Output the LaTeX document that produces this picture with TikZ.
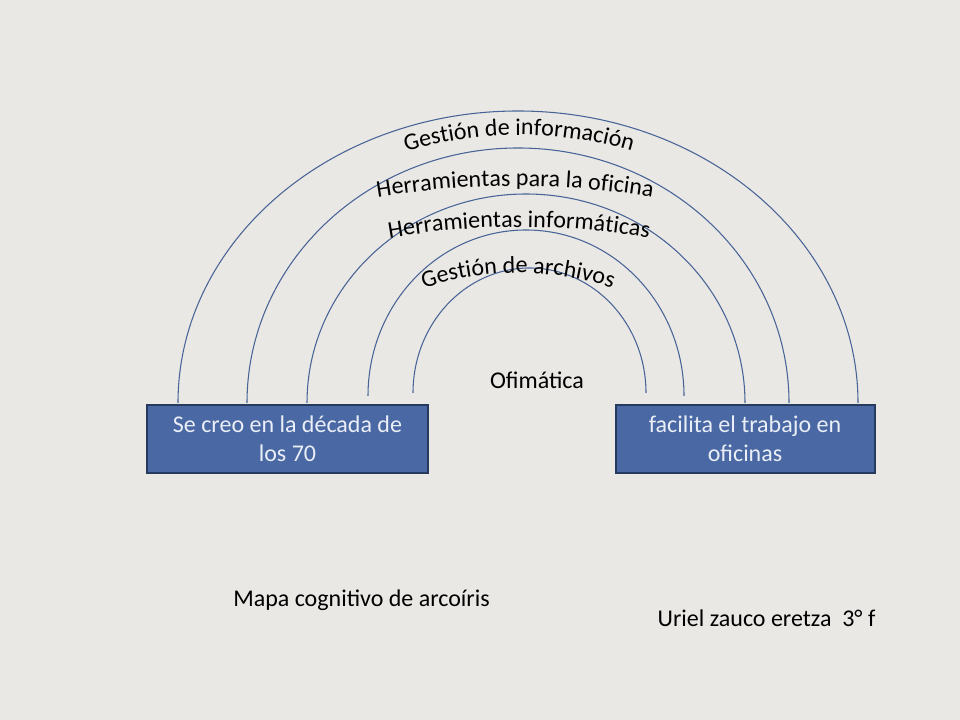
\documentclass[tikz,border=0pt]{standalone}
\usepackage{fontspec}
\setmainfont{Carlito}
\usetikzlibrary{decorations.text}
\definecolor{fondo}{RGB}{234,232,229}
\definecolor{arco}{RGB}{72,100,150}
\definecolor{caja}{RGB}{74,104,163}
\definecolor{borde}{RGB}{38,58,94}
\definecolor{letra}{RGB}{234,238,246}
\def\arcotexto[#1](#2,#3)(#4)#5{\path[decorate,decoration={text along path,text align=center,text={|\fontsize{18}{22}\selectfont|#5}}] (#2,#3) ++(-90:#4) ++(90+#1:#4) arc[start angle=90+#1,end angle=90-#1,radius=#4];}

\begin{document}
\begin{tikzpicture}[x=0.75pt,y=0.75pt,
	arcline/.style={draw=arco,line width=0.8pt},
	infobox/.style={draw=borde,line width=1.5pt,fill=caja,text=letra,align=center,font=\fontsize{18}{21.6}\selectfont,minimum height=51pt,inner sep=0pt},
	plain/.style={font=\fontsize{18}{21.6}\selectfont,inner sep=0pt}]
		%%%%% START %%%%%
		\useasboundingbox (0,0) rectangle (960,720);
		\fill[fondo] (0,0) rectangle (960,720);
		
		\draw[arcline] (178,317) arc[start angle=180,end angle=0,x radius=340,y radius=292];
		\draw[arcline] (247,317) arc[start angle=180,end angle=0,x radius=271,y radius=255];
		\draw[arcline] (307,317) arc[start angle=180,end angle=0,x radius=219,y radius=209];
		\draw[arcline] (368,324) arc[start angle=180,end angle=0,x radius=158,y radius=166];
		\draw[arcline] (413,327) arc[start angle=180,end angle=0,x radius=116.5,y radius=125];
		
		\arcotexto[30](519,585)(400){Gestión de información}
		\arcotexto[15](515,534)(850){Herramientas para la oficina}
		\arcotexto[18](519,493)(750){Herramientas informáticas}
		\arcotexto[30](518,447)(300){Gestión de archivos}
		
		\node[infobox,minimum width=210.75pt] (inicio) at (287.5,281) {Se creo en la década de\\los 70};
		\node[infobox,minimum width=194.25pt] (uso) at (745,281) {facilita el trabajo en\\oficinas};
		
		\node[plain] (centro) at (537,340) {Ofimática};
		\node[plain] (titulo) at (361.5,120) {Mapa cognitivo de arcoíris};
		\node[plain] (autor) at (766.5,102) {Uriel zauco eretza\ \ 3° f};
		%%%%% END %%%%%
\end{tikzpicture}
\end{document}
